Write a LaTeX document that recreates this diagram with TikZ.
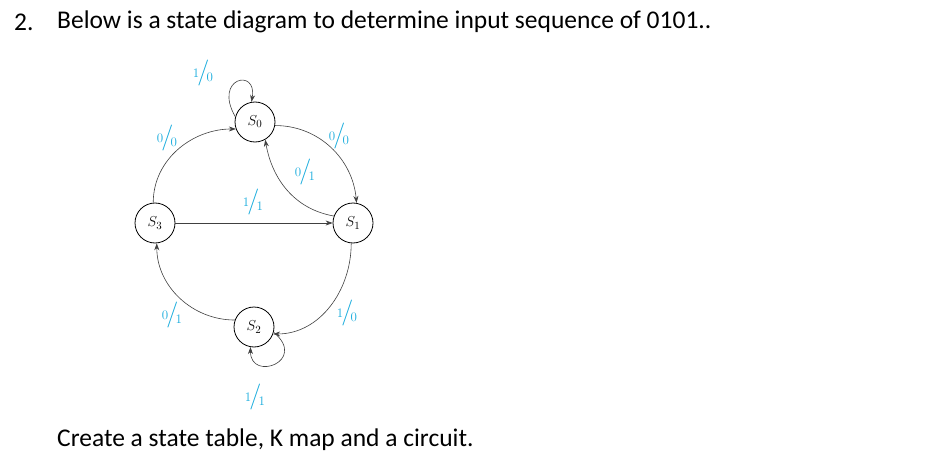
\documentclass[tikz,border=0pt]{standalone}
\usepackage{fontspec}
\setmainfont{Carlito}
\newfontfamily\lmfont{Latin Modern Roman}
\usetikzlibrary{arrows.meta}
\definecolor{lab}{RGB}{20,170,220}
\newcommand{\fr}[2]{\lmfont\raisebox{0.45ex}{\fontsize{13}{13}\selectfont#1}\kern-0.2em{\fontsize{26}{26}\selectfont/}\kern-0.25em\raisebox{-0.5ex}{\fontsize{13}{13}\selectfont#2}}
\tikzset{st/.style={circle,draw,thick,minimum size=40pt,inner sep=0pt,font=\lmfont\fontsize{15}{15}\selectfont},
ed/.style={draw=black!75,line width=0.6pt,-{Stealth[length=7pt,width=5pt]}},
lb/.style={text=lab,inner sep=0pt},
tx/.style={anchor=west,font=\fontsize{25.5}{28}\selectfont,inner sep=0pt}}
\begin{document}
\begin{tikzpicture}[x=1pt,y=-1pt]
\useasboundingbox (0,0) rectangle (946,460);
\node[tx] (t0) at (14,22) {2.};
\node[tx] (t1) at (57,22) {Below is a state diagram to determine input sequence of 0101..};
\node[tx] (t2) at (57,440) {Create a state table, K map and a circuit.};
\node[st] (s0) at (255,122) {$S_0$};
\node[st] (s1) at (353,223) {$S_1$};
\node[st] (s3) at (155,223) {$S_3$};
\node[st] (s2) at (254,327) {$S_2$};
\draw[ed] (s3.95) to[out=90,in=180] (s0.200);
\draw[ed] (s0.-10) to[out=0,in=95] (s1.80);
\draw[ed] (s1.160) to[out=170,in=-80] (s0.-60);
\draw[ed] (s3) -- (s1);
\draw[ed] (s1.-95) to[out=-90,in=0] (s2.-20);
\draw[ed] (s2.160) to[out=180,in=-90] (s3.-85);
\draw[ed] (s0.165) .. controls +(-120:45) and +(-80:35) .. (s0.100);
\draw[ed] (s2.-15) .. controls +(40:45) and +(90:35) .. (s2.-100);
\node[lb] (l1) at (203,73) {\fr10};
\node[lb] (l2) at (167,138) {\fr00};
\node[lb] (l3) at (339,136) {\fr00};
\node[lb] (l4) at (305,172) {\fr01};
\node[lb] (l5) at (253,202) {\fr11};
\node[lb] (l6) at (172,315) {\fr01};
\node[lb] (l7) at (347,313) {\fr10};
\node[lb] (l8) at (255,397) {\fr11};
\end{tikzpicture}
\end{document}
